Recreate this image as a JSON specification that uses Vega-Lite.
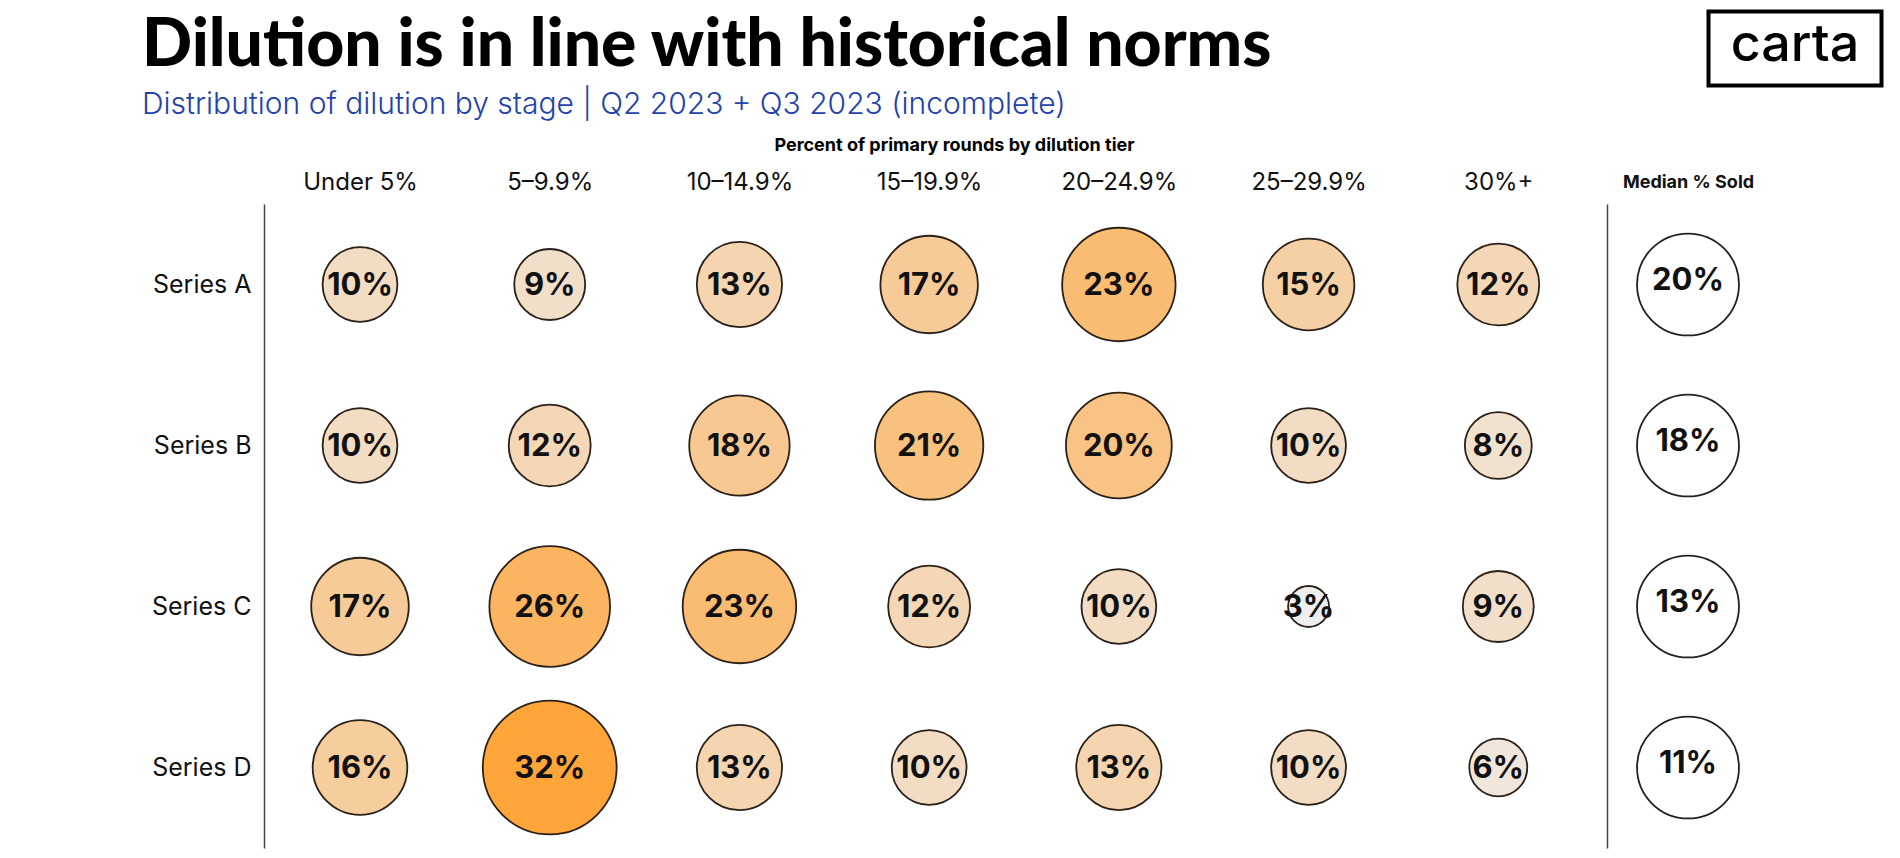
{
  "$schema": "https://vega.github.io/schema/vega-lite/v6.json",
  "width": 1343,
  "height": 644,
  "autosize": {"type": "none"},
  "padding": {"left": 264, "top": 204, "right": 293, "bottom": 10},
  "background": "#ffffff",
  "config": {"view": {"stroke": null}},
  "title": {
    "text": "Dilution is in line with historical norms",
    "subtitle": "Distribution of dilution by stage | Q2 2023 + Q3 2023 (incomplete)",
    "anchor": "start",
    "frame": "group",
    "dx": -122,
    "offset": -118,
    "font": "Lato",
    "fontSize": 66,
    "fontWeight": 900,
    "color": "#000000",
    "subtitleFont": "Inter",
    "subtitleFontSize": 30,
    "subtitleFontWeight": 300,
    "subtitleColor": "#2342AA",
    "subtitlePadding": 10
  },
  "datasets": {
    "tiers": [
      {"stage": "Series A", "tier": "Under 5%", "share": 0.10},
      {"stage": "Series A", "tier": "5–9.9%", "share": 0.09},
      {"stage": "Series A", "tier": "10–14.9%", "share": 0.13},
      {"stage": "Series A", "tier": "15–19.9%", "share": 0.17},
      {"stage": "Series A", "tier": "20–24.9%", "share": 0.23},
      {"stage": "Series A", "tier": "25–29.9%", "share": 0.15},
      {"stage": "Series A", "tier": "30%+", "share": 0.12},
      {"stage": "Series B", "tier": "Under 5%", "share": 0.10},
      {"stage": "Series B", "tier": "5–9.9%", "share": 0.12},
      {"stage": "Series B", "tier": "10–14.9%", "share": 0.18},
      {"stage": "Series B", "tier": "15–19.9%", "share": 0.21},
      {"stage": "Series B", "tier": "20–24.9%", "share": 0.20},
      {"stage": "Series B", "tier": "25–29.9%", "share": 0.10},
      {"stage": "Series B", "tier": "30%+", "share": 0.08},
      {"stage": "Series C", "tier": "Under 5%", "share": 0.17},
      {"stage": "Series C", "tier": "5–9.9%", "share": 0.26},
      {"stage": "Series C", "tier": "10–14.9%", "share": 0.23},
      {"stage": "Series C", "tier": "15–19.9%", "share": 0.12},
      {"stage": "Series C", "tier": "20–24.9%", "share": 0.10},
      {"stage": "Series C", "tier": "25–29.9%", "share": 0.03},
      {"stage": "Series C", "tier": "30%+", "share": 0.09},
      {"stage": "Series D", "tier": "Under 5%", "share": 0.16},
      {"stage": "Series D", "tier": "5–9.9%", "share": 0.32},
      {"stage": "Series D", "tier": "10–14.9%", "share": 0.13},
      {"stage": "Series D", "tier": "15–19.9%", "share": 0.10},
      {"stage": "Series D", "tier": "20–24.9%", "share": 0.13},
      {"stage": "Series D", "tier": "25–29.9%", "share": 0.10},
      {"stage": "Series D", "tier": "30%+", "share": 0.06}
    ],
    "median": [
      {"stage": "Series A", "tier": "Median % Sold", "share": 0.20},
      {"stage": "Series B", "tier": "Median % Sold", "share": 0.18},
      {"stage": "Series C", "tier": "Median % Sold", "share": 0.13},
      {"stage": "Series D", "tier": "Median % Sold", "share": 0.11}
    ],
    "logo": [
      {"brand": "carta", "stage": "Series A", "tier": "Median % Sold"}
    ]
  },
  "encoding": {
    "x": {
      "field": "tier",
      "type": "nominal",
      "scale": {
        "type": "point",
        "domain": ["Under 5%", "5–9.9%", "10–14.9%", "15–19.9%", "20–24.9%", "25–29.9%", "30%+", "Median % Sold"],
        "range": [96, 1424],
        "padding": 0
      },
      "axis": {
        "orient": "top",
        "title": "Percent of primary rounds by dilution tier",
        "titleFont": "Inter",
        "titleFontSize": 18,
        "titleFontWeight": "bold",
        "titleColor": "#000000",
        "titleX": 690,
        "titleY": -59,
        "titleBaseline": "middle",
        "labelFont": "Inter",
        "labelFontSize": {"condition": {"test": "datum.value === 'Median % Sold'", "value": 18}, "value": 24},
        "labelFontWeight": {"condition": {"test": "datum.value === 'Median % Sold'", "value": "bold"}, "value": "normal"},
        "labelColor": "#111111",
        "labelBaseline": "middle",
        "labelPadding": 22,
        "labelAngle": 0,
        "ticks": false,
        "tickSize": 0,
        "domain": false,
        "grid": false
      }
    },
    "y": {
      "field": "stage",
      "type": "nominal",
      "scale": {"type": "point", "domain": ["Series A", "Series B", "Series C", "Series D"], "padding": 0.5},
      "axis": null
    }
  },
  "layer": [
    {
      "data": {"name": "tiers"},
      "mark": {"type": "point", "shape": "circle", "filled": true, "stroke": "#2b2118", "strokeWidth": 1.8, "opacity": 1, "fillOpacity": 1},
      "encoding": {
        "y": {
          "field": "stage",
          "type": "nominal",
          "axis": {
            "orient": "left",
            "title": null,
            "labelFont": "Inter",
            "labelFontSize": 25,
            "labelColor": "#111111",
            "labelPadding": 13,
            "ticks": false,
            "tickSize": 0,
            "domain": true,
            "domainColor": "#444444",
            "domainWidth": 1.5,
            "grid": false
          }
        },
        "size": {"field": "share", "type": "quantitative", "scale": {"type": "linear", "domain": [0, 0.32], "range": [0, 17908]}, "legend": null},
        "fill": {"field": "share", "type": "quantitative", "scale": {"type": "linear", "domain": [0.03, 0.32], "range": ["#EEEEEE", "#FFA53A"], "interpolate": "rgb"}, "legend": null}
      }
    },
    {
      "data": {"name": "median"},
      "mark": {"type": "point", "shape": "circle", "filled": true, "fill": "#ffffff", "stroke": "#222222", "strokeWidth": 1.8, "size": 10387, "opacity": 1},
      "encoding": {
        "y": {
          "field": "stage",
          "type": "nominal",
          "axis": {
            "orient": "right",
            "title": null,
            "labels": false,
            "ticks": false,
            "tickSize": 0,
            "domain": true,
            "domainColor": "#444444",
            "domainWidth": 1.5,
            "grid": false
          }
        }
      }
    },
    {
      "data": {"name": "tiers"},
      "mark": {"type": "text", "font": "Inter", "fontSize": 31, "fontWeight": "bold", "color": "#111111", "align": "center", "baseline": "middle", "dy": 1},
      "encoding": {"text": {"field": "share", "type": "quantitative", "format": ".0%"}}
    },
    {
      "data": {"name": "median"},
      "mark": {"type": "text", "font": "Inter", "fontSize": 31, "fontWeight": "bold", "color": "#111111", "align": "center", "baseline": "middle", "dy": -4},
      "encoding": {"text": {"field": "share", "type": "quantitative", "format": ".0%"}}
    },
    {
      "data": {"name": "logo"},
      "mark": {"type": "point", "shape": "M-1,-0.428L1,-0.428L1,0.428L-1,0.428Z", "filled": false, "stroke": "#000000", "strokeWidth": 4, "size": 29929, "opacity": 1, "xOffset": 107, "yOffset": -236}
    },
    {
      "data": {"name": "logo"},
      "mark": {"type": "text", "font": "Inter", "fontSize": 52, "fontWeight": 500, "color": "#000000", "align": "center", "baseline": "middle", "dx": 107, "dy": -240},
      "encoding": {"text": {"field": "brand", "type": "nominal"}}
    }
  ],
  "resolve": {"axis": {"y": "independent"}}
}
